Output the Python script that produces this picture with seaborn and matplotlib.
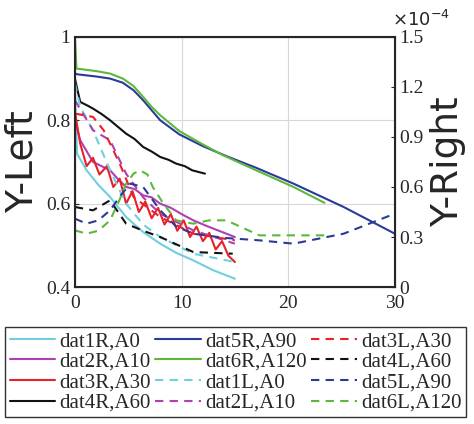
import seaborn as sns
import matplotlib.pyplot as plt

sns.set_style("white")
plt.rcParams['font.family'] = ['Liberation Serif', 'DejaVu Serif']

# solid (R) series
t1R = [0, 0.2, 1.1, 2.2, 3.3, 4.8, 6.4, 8, 9.5, 11.1, 13, 15]
v1R = [0.88, 0.72, 0.68, 0.645, 0.616, 0.568, 0.532, 0.504, 0.482, 0.464, 0.44, 0.42]
t2R = [0, 0.5, 1.7, 2.5, 3.3, 4.0, 4.8, 5.6, 6.4, 7.2, 8, 9, 10, 11.1, 12.5, 13.5, 15]
v2R = [0.8, 0.752, 0.70, 0.69, 0.68, 0.66, 0.64, 0.635, 0.62, 0.615, 0.60, 0.59, 0.575, 0.56, 0.545, 0.535, 0.52]
t3R = [0, 0.5, 1.1, 1.7, 2.3, 3.0, 3.6, 4.2, 4.8, 5.4, 6.0, 6.6, 7.2, 7.8, 8.4, 9.0, 9.6, 10.2, 10.8, 11.4, 12.0, 12.6, 13.2, 13.8, 14.4, 15]
v3R = [0.82, 0.744, 0.69, 0.71, 0.67, 0.69, 0.64, 0.66, 0.60, 0.63, 0.58, 0.605, 0.565, 0.59, 0.55, 0.575, 0.535, 0.56, 0.52, 0.545, 0.51, 0.53, 0.49, 0.51, 0.475, 0.46]
t4R = [0, 0.5, 1.2, 1.7, 2.5, 3.3, 4.0, 4.8, 5.6, 6.4, 7.2, 8, 8.8, 9.5, 10.3, 11.0, 11.6, 12.2]
v4R = [0.9, 0.844, 0.835, 0.828, 0.815, 0.8, 0.785, 0.768, 0.755, 0.736, 0.725, 0.712, 0.705, 0.696, 0.69, 0.68, 0.676, 0.672]
t5R = [0, 0.3, 2.0, 3.3, 4.5, 5.5, 6.4, 7.2, 8, 9.8, 12, 14.2, 17, 20.5, 25.2, 30]
v5R = [0.912, 0.91, 0.905, 0.9, 0.89, 0.872, 0.848, 0.824, 0.8, 0.766, 0.738, 0.714, 0.686, 0.648, 0.592, 0.528]
t6R = [0, 0.15, 2.0, 3.3, 4.5, 5.5, 6.4, 7.2, 8, 9.8, 12, 13.9, 17, 20.5, 23.4]
v6R = [1.0, 0.924, 0.918, 0.912, 0.9, 0.882, 0.856, 0.832, 0.812, 0.774, 0.742, 0.716, 0.68, 0.64, 0.602]

# dashed (L) series
t1L = [0, 0.5, 1.7, 3.3, 4.8, 6.4, 8, 11.1, 15]
v1L = [0.89, 0.832, 0.776, 0.68, 0.6, 0.55, 0.52, 0.48, 0.46]
t2L = [0, 1.7, 3.3, 4.8, 6.4, 8, 11.1, 15]
v2L = [0.848, 0.776, 0.752, 0.672, 0.615, 0.576, 0.536, 0.504]
t3L = [0, 1.7, 2.7, 4.2, 5.5, 8, 11.1, 15]
v3L = [0.816, 0.808, 0.776, 0.696, 0.616, 0.568, 0.528, 0.512]
t4L = [0, 1.7, 3.3, 4.8, 6.4, 8, 11.1, 14.8]
v4L = [0.592, 0.584, 0.608, 0.552, 0.535, 0.52, 0.484, 0.48]
t5L = [0, 1.1, 2.2, 3.3, 4.3, 5.2, 6.4, 8, 9.5, 11.1, 14, 17.3, 20.5, 25.2, 30]
v5L = [0.564, 0.552, 0.56, 0.584, 0.62, 0.648, 0.64, 0.584, 0.545, 0.528, 0.518, 0.512, 0.504, 0.528, 0.576]
t6L = [0, 1.1, 2.2, 3.3, 4.2, 4.8, 5.5, 6.1, 6.8, 7.3, 8.3, 9.5, 11.1, 12.6, 14.2, 17.3, 23.6]
v6L = [0.536, 0.528, 0.535, 0.56, 0.61, 0.648, 0.672, 0.68, 0.67, 0.64, 0.6, 0.56, 0.552, 0.56, 0.56, 0.524, 0.524]

labels = ["dat1R,A0", "dat2R,A10", "dat3R,A30", "dat4R,A60", "dat5R,A90", "dat6R,A120",
          "dat1L,A0", "dat2L,A10", "dat3L,A30", "dat4L,A60", "dat5L,A90", "dat6L,A120"]
colors = ["#6fcfe0", "#b040b0", "#e82028", "#111111", "#2b3a98", "#5cb83a"]
series = [(t1R, v1R), (t2R, v2R), (t3R, v3R), (t4R, v4R), (t5R, v5R), (t6R, v6R),
          (t1L, v1L), (t2L, v2L), (t3L, v3L), (t4L, v4L), (t5L, v5L), (t6L, v6L)]

fig = plt.figure(figsize=(4.74, 4.24), dpi=100)
ax = fig.add_axes([0.158, 0.323, 0.675, 0.59])
for i, (t, v) in enumerate(series):
    sns.lineplot(x=t, y=v, ax=ax, color=colors[i % 6], lw=1.5, sort=False,
                 linestyle='-' if i < 6 else (0, (4, 3)), label=labels[i])

ax.set_xlim(0, 30)
ax.set_ylim(0.4, 1.0)
ax.set_xticks([0, 10, 20, 30])
ax.set_yticks([0.4, 0.6, 0.8, 1.0])
ax.set_yticklabels(["0.4", "0.6", "0.8", "1"])
ax.grid(True, color="#d8d8d8", lw=0.8)
ax.tick_params(labelsize=14, direction='in', length=3)
ax.tick_params(axis='x', pad=6)
ax.set_ylabel("Y-Left", fontsize=27, family=['DejaVu Sans'])
for s in ax.spines.values():
    s.set_linewidth(1.5)

ax2 = ax.twinx()
ax2.set_ylim(0, 1.5)
ax2.set_yticks([0, 0.3, 0.6, 0.9, 1.2, 1.5])
ax2.set_yticklabels(["0", "0.3", "0.6", "0.9", "1.2", "1.5"])
ax2.tick_params(labelsize=14, direction='in', length=3)
ax2.set_ylabel("Y-Right", fontsize=27, family=['DejaVu Sans'])
ax2.text(0.99, 1.045, r"$\times10^{-4}$", transform=ax2.transAxes, fontsize=13)

h, l = ax.get_legend_handles_labels()
ax.get_legend().remove()
fig.legend(h, l, ncol=3, loc='center', bbox_to_anchor=(0.497, 0.122), fontsize=15,
           frameon=True, fancybox=False, edgecolor='black', handlelength=2.2,
           handletextpad=0.2, columnspacing=0.2, labelspacing=0.05, borderpad=0.2,
           borderaxespad=0)
fig.savefig("out.png", dpi=100)
